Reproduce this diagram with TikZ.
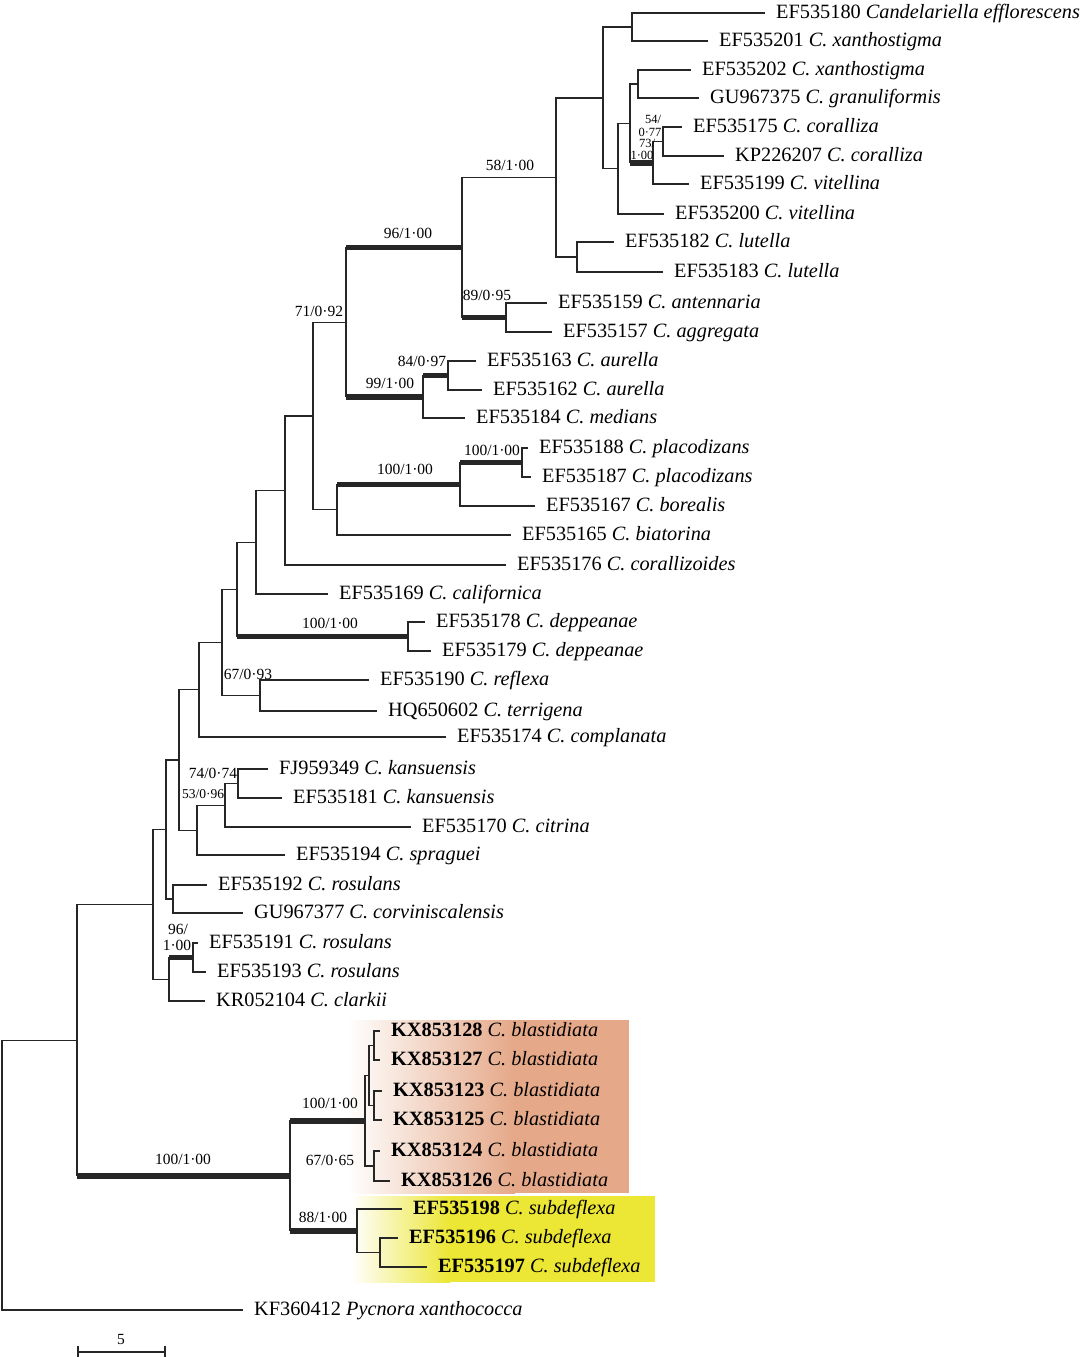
\documentclass[tikz,border=0pt]{standalone}
\usepackage{fontspec}
\setmainfont{Liberation Serif}
\definecolor{blastcol}{RGB}{229,168,136}
\definecolor{subcol}{RGB}{236,230,52}

\begin{document}
\begin{tikzpicture}[x=1pt,y=-1pt,
	br/.style={line width=1.2pt, draw=black!85},
	sup/.style={line width=5.5pt, draw=black!85},
	tip/.style={anchor=west, inner xsep=11pt, inner ysep=0pt, text height=14pt, text depth=4pt, font=\fontsize{20.3}{24}\selectfont},
	bs/.style={inner sep=0pt, font=\fontsize{15.5}{18}\selectfont},
	bsmid/.style={inner sep=0pt, font=\fontsize{13.5}{16}\selectfont},
	bsmall/.style={inner sep=0pt, font=\fontsize{12.5}{14}\selectfont}]

\useasboundingbox (0,0) rectangle (1081,1357);

% coloured boxes
\shade[left color=white, right color=blastcol] (347,1020) rectangle (515,1193);
\fill[blastcol] (514.5,1020) rectangle (629,1193);
\shade[left color=white, right color=subcol] (351,1196) rectangle (450,1282);
\fill[subcol] (449.5,1196) rectangle (655,1282);

% tips
\node[tip] (t1) at (765,13) {EF535180 \textit{Candelariella efflorescens}};
\node[tip] (t2) at (708,41) {EF535201 \textit{C. xanthostigma}};
\node[tip] (t3) at (691,70) {EF535202 \textit{C. xanthostigma}};
\node[tip] (t4) at (699,98) {GU967375 \textit{C. granuliformis}};
\node[tip] (t5) at (682,127) {EF535175 \textit{C. coralliza}};
\node[tip] (t6) at (724,156) {KP226207 \textit{C. coralliza}};
\node[tip] (t7) at (689,184) {EF535199 \textit{C. vitellina}};
\node[tip] (t8) at (664,214) {EF535200 \textit{C. vitellina}};
\node[tip] (t9) at (614,242) {EF535182 \textit{C. lutella}};
\node[tip] (t10) at (663,272) {EF535183 \textit{C. lutella}};
\node[tip] (t11) at (547,303) {EF535159 \textit{C. antennaria}};
\node[tip] (t12) at (552,332) {EF535157 \textit{C. aggregata}};
\node[tip] (t13) at (476,361) {EF535163 \textit{C. aurella}};
\node[tip] (t14) at (482,390) {EF535162 \textit{C. aurella}};
\node[tip] (t15) at (465,418) {EF535184 \textit{C. medians}};
\node[tip] (t16) at (528,448) {EF535188 \textit{C. placodizans}};
\node[tip] (t17) at (531,477) {EF535187 \textit{C. placodizans}};
\node[tip] (t18) at (535,506) {EF535167 \textit{C. borealis}};
\node[tip] (t19) at (511,535) {EF535165 \textit{C. biatorina}};
\node[tip] (t20) at (506,565) {EF535176 \textit{C. corallizoides}};
\node[tip] (t21) at (328,594) {EF535169 \textit{C. californica}};
\node[tip] (t22) at (425,622) {EF535178 \textit{C. deppeanae}};
\node[tip] (t23) at (431,651) {EF535179 \textit{C. deppeanae}};
\node[tip] (t24) at (369,680) {EF535190 \textit{C. reflexa}};
\node[tip] (t25) at (377,711) {HQ650602 \textit{C. terrigena}};
\node[tip] (t26) at (446,737) {EF535174 \textit{C. complanata}};
\node[tip] (t27) at (268,769) {FJ959349 \textit{C. kansuensis}};
\node[tip] (t28) at (282,798) {EF535181 \textit{C. kansuensis}};
\node[tip] (t29) at (411,827) {EF535170 \textit{C. citrina}};
\node[tip] (t30) at (285,855) {EF535194 \textit{C. spraguei}};
\node[tip] (t31) at (207,885) {EF535192 \textit{C. rosulans}};
\node[tip] (t32) at (243,913) {GU967377 \textit{C. corviniscalensis}};
\node[tip] (t33) at (198,943) {EF535191 \textit{C. rosulans}};
\node[tip] (t34) at (206,972) {EF535193 \textit{C. rosulans}};
\node[tip] (t35) at (205,1001) {KR052104 \textit{C. clarkii}};
\node[tip] (t36) at (380,1031) {\textbf{KX853128} \textit{C. blastidiata}};
\node[tip] (t37) at (380,1060) {\textbf{KX853127} \textit{C. blastidiata}};
\node[tip] (t38) at (382,1091) {\textbf{KX853123} \textit{C. blastidiata}};
\node[tip] (t39) at (382,1120) {\textbf{KX853125} \textit{C. blastidiata}};
\node[tip] (t40) at (380,1151) {\textbf{KX853124} \textit{C. blastidiata}};
\node[tip] (t41) at (390,1181) {\textbf{KX853126} \textit{C. blastidiata}};
\node[tip] (t42) at (402,1209) {\textbf{EF535198} \textit{C. subdeflexa}};
\node[tip] (t43) at (398,1238) {\textbf{EF535196} \textit{C. subdeflexa}};
\node[tip] (t44) at (427,1267) {\textbf{EF535197} \textit{C. subdeflexa}};
\node[tip] (t45) at (243,1310) {KF360412 \textit{Pycnora xanthococca}};

% internal nodes
\coordinate (x2) at (632,27);
\coordinate (x5) at (638,84);
\coordinate (x7) at (663,141.5);
\coordinate (x6) at (653,162.8);
\coordinate (x4) at (630,123.4);
\coordinate (x3) at (618,168.7);
\coordinate (x1) at (603,97.9);
\coordinate (lu) at (577,257);
\coordinate (n58) at (556,177.4);
\coordinate (n89) at (506,317.5);
\coordinate (n96) at (462,247.5);
\coordinate (n84) at (448,375.5);
\coordinate (n99) at (423,396.8);
\coordinate (n71) at (346,322.1);
\coordinate (pl) at (522,462.5);
\coordinate (bo) at (460,484.3);
\coordinate (bi) at (337,509.6);
\coordinate (na) at (313,415.9);
\coordinate (nb) at (285,490.4);
\coordinate (nc) at (256,542.2);
\coordinate (de) at (408,636.5);
\coordinate (nd) at (237,589.4);
\coordinate (n67) at (260,695.5);
\coordinate (ne) at (222,642.4);
\coordinate (nf) at (199,689.7);
\coordinate (n74) at (238,783.5);
\coordinate (n53) at (225,805.3);
\coordinate (ni) at (197,830.1);
\coordinate (ng) at (179,759.9);
\coordinate (nr) at (173,899);
\coordinate (nh) at (166,829.5);
\coordinate (ro) at (193,957.5);
\coordinate (n96r) at (169,979.3);
\coordinate (nj) at (153,904.4);
\coordinate (q2) at (374,1045.5);
\coordinate (q3) at (374,1105.5);
\coordinate (q1) at (369,1075.5);
\coordinate (q4) at (374,1166);
\coordinate (bl) at (365,1120.8);
\coordinate (sd) at (380,1252.5);
\coordinate (n88) at (357,1230.8);
\coordinate (n100) at (290,1175.8);
\coordinate (nin) at (77,1040.1);
\coordinate (root) at (2,1175);

% branches
\draw[br] (x2) |- (t1.west);
\draw[br] (x2) |- (t2.west);
\draw[br] (x5) |- (t3.west);
\draw[br] (x5) |- (t4.west);
\draw[br] (x7) |- (t5.west);
\draw[br] (x7) |- (t6.west);
\draw[br] (x6) |- (x7);
\draw[br] (x6) |- (t7.west);
\draw[br] (x4) |- (x5);
\draw[br] (x4) |- (x6);
\draw[br] (x3) |- (x4);
\draw[br] (x3) |- (t8.west);
\draw[br] (x1) |- (x2);
\draw[br] (x1) |- (x3);
\draw[br] (lu) |- (t9.west);
\draw[br] (lu) |- (t10.west);
\draw[br] (n58) |- (x1);
\draw[br] (n58) |- (lu);
\draw[br] (n89) |- (t11.west);
\draw[br] (n89) |- (t12.west);
\draw[br] (n96) |- (n58);
\draw[br] (n96) |- (n89);
\draw[br] (n84) |- (t13.west);
\draw[br] (n84) |- (t14.west);
\draw[br] (n99) |- (n84);
\draw[br] (n99) |- (t15.west);
\draw[br] (n71) |- (n96);
\draw[br] (n71) |- (n99);
\draw[br] (pl) |- (t16.west);
\draw[br] (pl) |- (t17.west);
\draw[br] (bo) |- (pl);
\draw[br] (bo) |- (t18.west);
\draw[br] (bi) |- (bo);
\draw[br] (bi) |- (t19.west);
\draw[br] (na) |- (n71);
\draw[br] (na) |- (bi);
\draw[br] (nb) |- (na);
\draw[br] (nb) |- (t20.west);
\draw[br] (nc) |- (nb);
\draw[br] (nc) |- (t21.west);
\draw[br] (de) |- (t22.west);
\draw[br] (de) |- (t23.west);
\draw[br] (nd) |- (nc);
\draw[br] (nd) |- (de);
\draw[br] (n67) |- (t24.west);
\draw[br] (n67) |- (t25.west);
\draw[br] (ne) |- (nd);
\draw[br] (ne) |- (n67);
\draw[br] (nf) |- (ne);
\draw[br] (nf) |- (t26.west);
\draw[br] (n74) |- (t27.west);
\draw[br] (n74) |- (t28.west);
\draw[br] (n53) |- (n74);
\draw[br] (n53) |- (t29.west);
\draw[br] (ni) |- (n53);
\draw[br] (ni) |- (t30.west);
\draw[br] (ng) |- (nf);
\draw[br] (ng) |- (ni);
\draw[br] (nr) |- (t31.west);
\draw[br] (nr) |- (t32.west);
\draw[br] (nh) |- (ng);
\draw[br] (nh) |- (nr);
\draw[br] (ro) |- (t33.west);
\draw[br] (ro) |- (t34.west);
\draw[br] (n96r) |- (ro);
\draw[br] (n96r) |- (t35.west);
\draw[br] (nj) |- (nh);
\draw[br] (nj) |- (n96r);
\draw[br] (q2) |- (t36.west);
\draw[br] (q2) |- (t37.west);
\draw[br] (q3) |- (t38.west);
\draw[br] (q3) |- (t39.west);
\draw[br] (q1) |- (q2);
\draw[br] (q1) |- (q3);
\draw[br] (q4) |- (t40.west);
\draw[br] (q4) |- (t41.west);
\draw[br] (bl) |- (q1);
\draw[br] (bl) |- (q4);
\draw[br] (sd) |- (t43.west);
\draw[br] (sd) |- (t44.west);
\draw[br] (n88) |- (t42.west);
\draw[br] (n88) |- (sd);
\draw[br] (n100) |- (bl);
\draw[br] (n100) |- (n88);
\draw[br] (nin) |- (nj);
\draw[br] (nin) |- (n100);
\draw[br] (root) |- (nin);
\draw[br] (root) |- (t45.west);

% supported branches
\draw[sup] (x4 |- x6) -- (x6);
\draw[sup] (n71 |- n96) -- (n96);
\draw[sup] (n96 |- n89) -- (n89);
\draw[sup] (n71 |- n99) -- (n99);
\draw[sup] (n99 |- n84) -- (n84);
\draw[sup] (bi |- bo) -- (bo);
\draw[sup] (bo |- pl) -- (pl);
\draw[sup] (nd |- de) -- (de);
\draw[sup] (n96r |- ro) -- (ro);
\draw[sup] (nin |- n100) -- (n100);
\draw[sup] (n100 |- bl) -- (bl);
\draw[sup] (n100 |- n88) -- (n88);

% support values
\node[bs] (b58) at (510,165) {58/1·00};
\node[bs] (b96) at (408,233) {96/1·00};
\node[bs] (b89) at (487,295) {89/0·95};
\node[bs] (b71) at (319,311) {71/0·92};
\node[bs] (b84) at (422,361) {84/0·97};
\node[bs] (b99) at (390,383) {99/1·00};
\node[bs] (bpl) at (492,450) {100/1·00};
\node[bs] (bbo) at (405,469) {100/1·00};
\node[bs] (bde) at (330,623) {100/1·00};
\node[bs] (b67) at (248,674) {67/0·93};
\node[bs] (b74) at (213,773) {74/0·74};
\node[bsmid] (b53) at (203,794) {53/0·96};
\node[bs] (bro) at (178,929) {96/};
\node[bs] (bro2) at (177,945) {1·00};
\node[bsmall] (b54) at (653,119) {54/};
\node[bsmall] (b54b) at (650,132) {0·77};
\node[bsmall] (b73) at (647,143) {73/};
\node[bsmall] (b73b) at (642,155) {1·00};
\node[bs] (bin) at (183,1159) {100/1·00};
\node[bs] (bbl) at (330,1103) {100/1·00};
\node[bs] (b65) at (330,1160) {67/0·65};
\node[bs] (b88) at (323,1217) {88/1·00};

% scale bar
\coordinate (s1) at (78,1352);
\coordinate (s2) at (165,1352);
\draw[br] (s1) -- (s2);
\draw[br] (78,1346) -- (78,1357);
\draw[br] (165,1346) -- (165,1357);
\node[bs] (sc) at (121,1339) {5};

\end{tikzpicture}
\end{document}
